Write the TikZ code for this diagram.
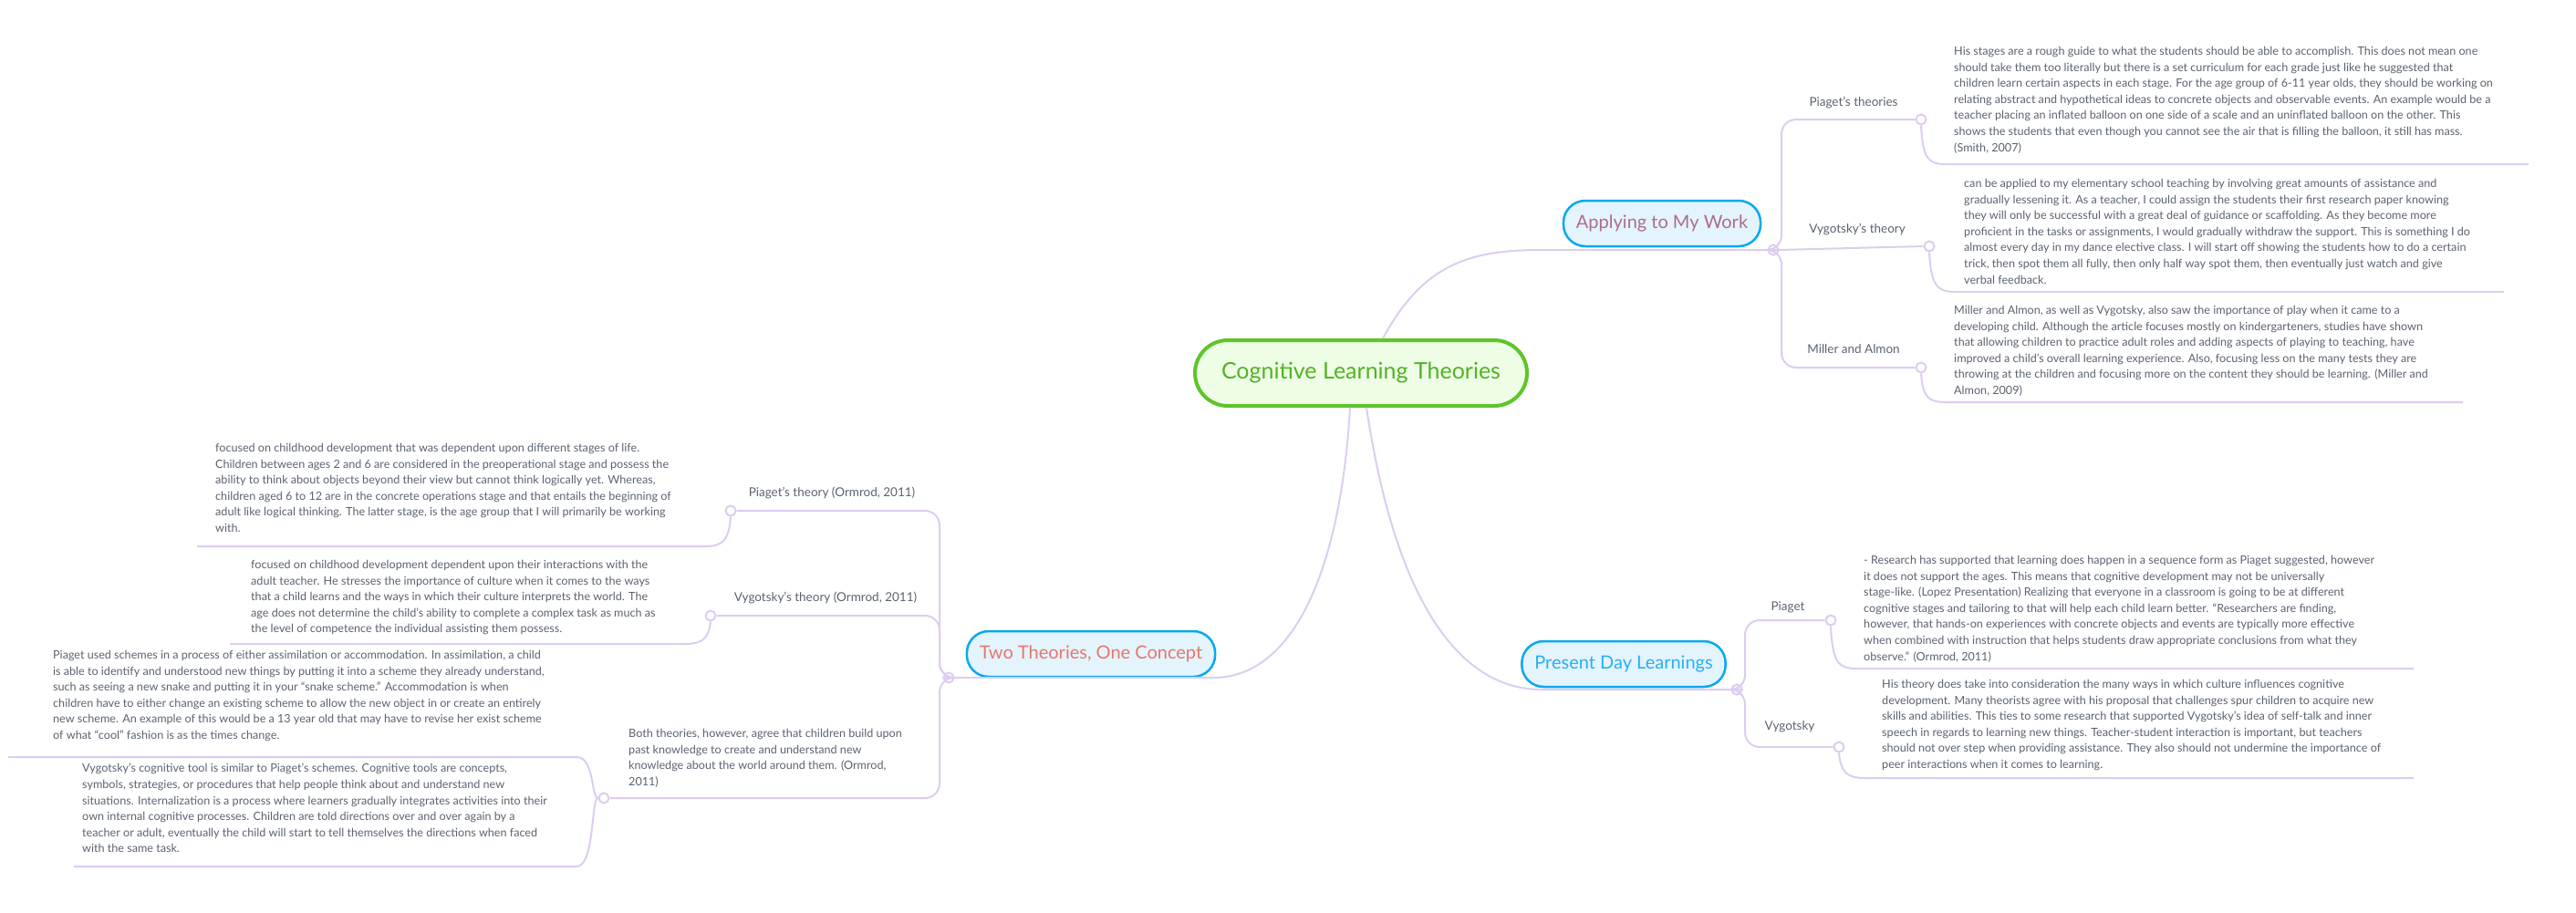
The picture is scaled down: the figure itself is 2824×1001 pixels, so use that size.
\documentclass[tikz,border=0pt]{standalone}
\usepackage{fontspec}
\setmainfont{Lato}
\definecolor{conn}{HTML}{DCCDF0}
\definecolor{txtc}{HTML}{5A6270}
\definecolor{topicborder}{HTML}{0AA8F0}
\definecolor{topicfill}{HTML}{E3F4FD}
\tikzset{
  cl/.style={draw=conn,line width=2pt},
  knot/.style={circle,draw=conn,line width=2pt,fill=white,minimum size=11pt,inner sep=0pt},
  body/.style={anchor=north west,inner sep=0pt,align=left,text=txtc,font=\fontsize{12.6}{17.6}\selectfont},
  lab/.style={inner sep=0pt,text=txtc,font=\fontsize{13.5}{16}\selectfont},
  topic/.style={draw=topicborder,fill=topicfill,line width=2.5pt,rounded corners=24pt,minimum height=50pt,inner xsep=14pt,font=\fontsize{20}{24}\selectfont},
}
\begin{document}
\begin{tikzpicture}[x=1pt,y=-1pt]
\useasboundingbox (0,0) rectangle (2824,1001);
% central
\node[draw={rgb,255:red,94;green,197;blue,42},fill={rgb,255:red,238;green,253;blue,230},line width=4pt,rounded corners=36pt,minimum width=364pt,minimum height=72pt,text={rgb,255:red,82;green,179;blue,35},font=\fontsize{25}{30}\selectfont] (c) at (1492,409) {Cognitive Learning Theories};
% topics
\node[topic,minimum width=201pt,text={rgb,255:red,176;green,106;blue,143}] (apply) at (1822,245) {Applying to My Work};
\node[topic,minimum width=261pt,text={rgb,255:red,232;green,118;blue,108}] (two) at (1196,717) {Two Theories, One Concept};
\node[topic,minimum width=212pt,text={rgb,255:red,41;green,174;blue,245}] (pdl) at (1780,728) {Present Day Learnings};

% knots
\node[knot] (k1) at (1944,274) {};
\node[knot] (k2) at (1040,743) {};
\node[knot] (k3) at (1904,756) {};
\node[knot] (p1) at (2106,131) {};
\node[knot] (p2) at (2115,270) {};
\node[knot] (p3) at (2106,403) {};
\node[knot] (q1) at (2007,680) {};
\node[knot] (q2) at (2016,819) {};
\node[knot] (l1) at (801,560) {};
\node[knot] (l2) at (779,675) {};
\node[knot] (l3) at (662,875) {};

% main connectors
\draw[cl] ([xshift=24pt]c.north) .. controls (1560,290) and (1610,274) .. (1690,274) -- (k1.west);
\draw[cl] ([xshift=-12pt]c.south) .. controls (1470,620) and (1420,743) .. (1330,743) -- (k2.east);
\draw[cl] ([xshift=6pt]c.south) .. controls (1530,660) and (1600,756) .. (1690,756) -- (k3.west);

% branches right top
\draw[cl,rounded corners=16pt] (k1.east) -- (1953,274) |- (p1.west);
\draw[cl] (k1.east) -- (p2.west);
\draw[cl,rounded corners=16pt] (k1.east) -- (1953,274) |- (p3.west);
% branches right bottom
\draw[cl,rounded corners=16pt] (k3.east) -- (1913,756) |- (q1.west);
\draw[cl,rounded corners=16pt] (k3.east) -- (1913,756) |- (q2.west);
% branches left
\draw[cl,rounded corners=16pt] (k2.west) -- (1030,743) |- (l1.east);
\draw[cl,rounded corners=16pt] (k2.west) -- (1030,743) |- (l2.east);
\draw[cl,rounded corners=16pt] (k2.west) -- (1030,743) |- (l3.east);

% underlines
\coordinate (u1) at (2772,180);
\coordinate (u2) at (2745,320);
\coordinate (u3) at (2700,441);
\coordinate (v1) at (2646,733);
\coordinate (v2) at (2646,853);
\coordinate (w1) at (216,599);
\coordinate (w2) at (252,706);
\coordinate (w3) at (9,830);
\coordinate (w4) at (81,950);
\draw[cl] (p1.south) .. controls (2108,175) and (2114,180) .. (2134,180) -- (u1);
\draw[cl] (p2.south) .. controls (2117,312) and (2123,320) .. (2143,320) -- (u2);
\draw[cl] (p3.south) .. controls (2108,436) and (2114,441) .. (2134,441) -- (u3);
\draw[cl] (q1.south) .. controls (2009,726) and (2015,733) .. (2035,733) -- (v1);
\draw[cl] (q2.south) .. controls (2018,846) and (2024,853) .. (2044,853) -- (v2);
\draw[cl] (l1.south) .. controls (799,592) and (793,599) .. (773,599) -- (w1);
\draw[cl] (l2.south) .. controls (777,699) and (771,706) .. (751,706) -- (w2);
\draw[cl] (l3.west) .. controls (648,875) and (652,830) .. (632,830) -- (w3);
\draw[cl] (l3.west) .. controls (648,875) and (652,950) .. (632,950) -- (w4);

% labels
\node[lab] (a1) at (2032,113) {Piaget's theories};
\node[lab] (a2) at (2036,252) {Vygotsky's theory};
\node[lab] (a3) at (2032,383) {Miller and Almon};
\node[lab] (b1) at (1960,666) {Piaget};
\node[lab] (b2) at (1962,797) {Vygotsky};
\node[lab] (d1) at (912,540) {Piaget's theory (Ormrod, 2011)};
\node[lab] (d2) at (905,655) {Vygotsky's theory (Ormrod, 2011)};

% bodies
\node[body] (t1) at (2142,51) {His stages are a rough guide to what the students should be able to accomplish. This does not mean one\\should take them too literally but there is a set curriculum for each grade just like he suggested that\\children learn certain aspects in each stage. For the age group of 6-11 year olds, they should be working on\\relating abstract and hypothetical ideas to concrete objects and observable events. An example would be a\\teacher placing an inflated balloon on one side of a scale and an uninflated balloon on the other. This\\shows the students that even though you cannot see the air that is filling the balloon, it still has mass.\\(Smith, 2007)};
\node[body] (t2) at (2153,196) {can be applied to my elementary school teaching by involving great amounts of assistance and\\gradually lessening it. As a teacher, I could assign the students their first research paper knowing\\they will only be successful with a great deal of guidance or scaffolding. As they become more\\proficient in the tasks or assignments, I would gradually withdraw the support. This is something I do\\almost every day in my dance elective class. I will start off showing the students how to do a certain\\trick, then spot them all fully, then only half way spot them, then eventually just watch and give\\verbal feedback.};
\node[body] (t3) at (2142,335) {Miller and Almon, as well as Vygotsky, also saw the importance of play when it came to a\\developing child. Although the article focuses mostly on kindergarteners, studies have shown\\that allowing children to practice adult roles and adding aspects of playing to teaching, have\\improved a child's overall learning experience. Also, focusing less on the many tests they are\\throwing at the children and focusing more on the content they should be learning. (Miller and\\Almon, 2009)};
\node[body] (t4) at (2043,609) {- Research has supported that learning does happen in a sequence form as Piaget suggested, however\\it does not support the ages. This means that cognitive development may not be universally\\stage-like. (Lopez Presentation) Realizing that everyone in a classroom is going to be at different\\cognitive stages and tailoring to that will help each child learn better. ``Researchers are finding,\\however, that hands-on experiences with concrete objects and events are typically more effective\\when combined with instruction that helps students draw appropriate conclusions from what they\\observe.'' (Ormrod, 2011)};
\node[body] (t5) at (2063,745) {His theory does take into consideration the many ways in which culture influences cognitive\\development. Many theorists agree with his proposal that challenges spur children to acquire new\\skills and abilities. This ties to some research that supported Vygotsky's idea of self-talk and inner\\speech in regards to learning new things. Teacher-student interaction is important, but teachers\\should not over step when providing assistance. They also should not undermine the importance of\\peer interactions when it comes to learning.};
\node[body] (s1) at (236,486) {focused on childhood development that was dependent upon different stages of life.\\Children between ages 2 and 6 are considered in the preoperational stage and possess the\\ability to think about objects beyond their view but cannot think logically yet. Whereas,\\children aged 6 to 12 are in the concrete operations stage and that entails the beginning of\\adult like logical thinking. The latter stage, is the age group that I will primarily be working\\with.};
\node[body] (s2) at (275,614) {focused on childhood development dependent upon their interactions with the\\adult teacher. He stresses the importance of culture when it comes to the ways\\that a child learns and the ways in which their culture interprets the world. The\\age does not determine the child's ability to complete a complex task as much as\\the level of competence the individual assisting them possess.};
\node[body] (s3) at (689,799) {Both theories, however, agree that children build upon\\past knowledge to create and understand new\\knowledge about the world around them. (Ormrod,\\2011)};
\node[body] (s4) at (58,713) {Piaget used schemes in a process of either assimilation or accommodation. In assimilation, a child\\is able to identify and understood new things by putting it into a scheme they already understand,\\such as seeing a new snake and putting it in your ``snake scheme.'' Accommodation is when\\children have to either change an existing scheme to allow the new object in or create an entirely\\new scheme. An example of this would be a 13 year old that may have to revise her exist scheme\\of what ``cool'' fashion is as the times change.};
\node[body] (s5) at (90,837) {Vygotsky's cognitive tool is similar to Piaget's schemes. Cognitive tools are concepts,\\symbols, strategies, or procedures that help people think about and understand new\\situations. Internalization is a process where learners gradually integrates activities into their\\own internal cognitive processes. Children are told directions over and over again by a\\teacher or adult, eventually the child will start to tell themselves the directions when faced\\with the same task.};
\end{tikzpicture}
\end{document}
